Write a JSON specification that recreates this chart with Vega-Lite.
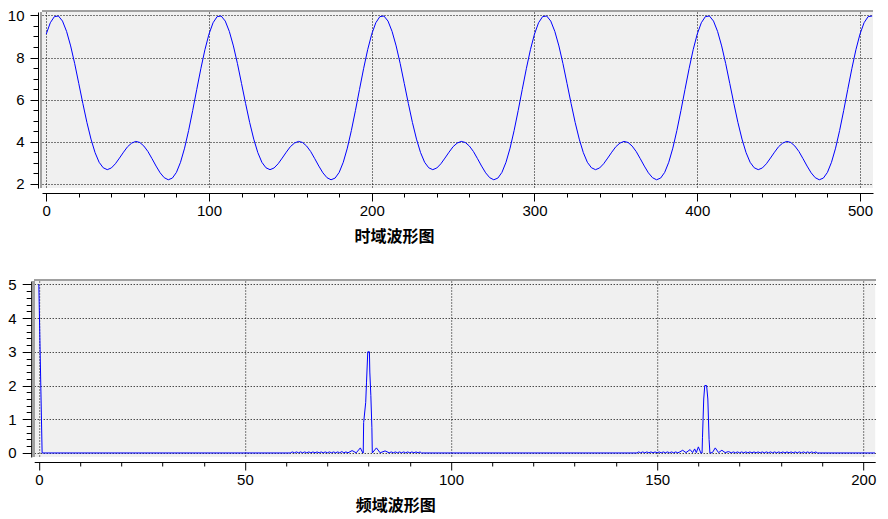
{
  "$schema": "https://vega.github.io/schema/vega-lite/v6.json",
  "background": "white",
  "padding": {"left": 7, "top": 8, "right": 10, "bottom": 5},
  "spacing": 33,
  "center": true,
  "datasets": {
    "time": [
      {"t":0,"v":9.11},{"t":2.5,"v":9.65},{"t":5,"v":9.94},{"t":7.5,"v":9.97},{"t":10,"v":9.73},{"t":12.5,"v":9.24},{"t":15,"v":8.55},{"t":17.5,"v":7.71},{"t":20,"v":6.77},{"t":22.5,"v":5.82},{"t":25,"v":4.92},{"t":27.5,"v":4.13},{"t":30,"v":3.49},{"t":32.5,"v":3.03},{"t":35,"v":2.77},{"t":37.5,"v":2.68},{"t":40,"v":2.76},{"t":42.5,"v":2.96},{"t":45,"v":3.23},{"t":47.5,"v":3.51},{"t":50,"v":3.77},{"t":52.5,"v":3.94},{"t":55,"v":4.02},{"t":57.5,"v":3.97},{"t":60,"v":3.8},{"t":62.5,"v":3.54},{"t":65,"v":3.2},{"t":67.5,"v":2.85},{"t":70,"v":2.53},{"t":72.5,"v":2.3},{"t":75,"v":2.2},{"t":77.5,"v":2.28},{"t":80,"v":2.55},{"t":82.5,"v":3.03},{"t":85,"v":3.7},{"t":87.5,"v":4.54},{"t":90,"v":5.49},{"t":92.5,"v":6.49},{"t":95,"v":7.47},{"t":97.5,"v":8.37},
      {"t":100,"v":9.11},{"t":102.5,"v":9.65},{"t":105,"v":9.94},{"t":107.5,"v":9.97},{"t":110,"v":9.73},{"t":112.5,"v":9.24},{"t":115,"v":8.55},{"t":117.5,"v":7.71},{"t":120,"v":6.77},{"t":122.5,"v":5.82},{"t":125,"v":4.92},{"t":127.5,"v":4.13},{"t":130,"v":3.49},{"t":132.5,"v":3.03},{"t":135,"v":2.77},{"t":137.5,"v":2.68},{"t":140,"v":2.76},{"t":142.5,"v":2.96},{"t":145,"v":3.23},{"t":147.5,"v":3.51},{"t":150,"v":3.77},{"t":152.5,"v":3.94},{"t":155,"v":4.02},{"t":157.5,"v":3.97},{"t":160,"v":3.8},{"t":162.5,"v":3.54},{"t":165,"v":3.2},{"t":167.5,"v":2.85},{"t":170,"v":2.53},{"t":172.5,"v":2.3},{"t":175,"v":2.2},{"t":177.5,"v":2.28},{"t":180,"v":2.55},{"t":182.5,"v":3.03},{"t":185,"v":3.7},{"t":187.5,"v":4.54},{"t":190,"v":5.49},{"t":192.5,"v":6.49},{"t":195,"v":7.47},{"t":197.5,"v":8.37},
      {"t":200,"v":9.11},{"t":202.5,"v":9.65},{"t":205,"v":9.94},{"t":207.5,"v":9.97},{"t":210,"v":9.73},{"t":212.5,"v":9.24},{"t":215,"v":8.55},{"t":217.5,"v":7.71},{"t":220,"v":6.77},{"t":222.5,"v":5.82},{"t":225,"v":4.92},{"t":227.5,"v":4.13},{"t":230,"v":3.49},{"t":232.5,"v":3.03},{"t":235,"v":2.77},{"t":237.5,"v":2.68},{"t":240,"v":2.76},{"t":242.5,"v":2.96},{"t":245,"v":3.23},{"t":247.5,"v":3.51},{"t":250,"v":3.77},{"t":252.5,"v":3.94},{"t":255,"v":4.02},{"t":257.5,"v":3.97},{"t":260,"v":3.8},{"t":262.5,"v":3.54},{"t":265,"v":3.2},{"t":267.5,"v":2.85},{"t":270,"v":2.53},{"t":272.5,"v":2.3},{"t":275,"v":2.2},{"t":277.5,"v":2.28},{"t":280,"v":2.55},{"t":282.5,"v":3.03},{"t":285,"v":3.7},{"t":287.5,"v":4.54},{"t":290,"v":5.49},{"t":292.5,"v":6.49},{"t":295,"v":7.47},{"t":297.5,"v":8.37},
      {"t":300,"v":9.11},{"t":302.5,"v":9.65},{"t":305,"v":9.94},{"t":307.5,"v":9.97},{"t":310,"v":9.73},{"t":312.5,"v":9.24},{"t":315,"v":8.55},{"t":317.5,"v":7.71},{"t":320,"v":6.77},{"t":322.5,"v":5.82},{"t":325,"v":4.92},{"t":327.5,"v":4.13},{"t":330,"v":3.49},{"t":332.5,"v":3.03},{"t":335,"v":2.77},{"t":337.5,"v":2.68},{"t":340,"v":2.76},{"t":342.5,"v":2.96},{"t":345,"v":3.23},{"t":347.5,"v":3.51},{"t":350,"v":3.77},{"t":352.5,"v":3.94},{"t":355,"v":4.02},{"t":357.5,"v":3.97},{"t":360,"v":3.8},{"t":362.5,"v":3.54},{"t":365,"v":3.2},{"t":367.5,"v":2.85},{"t":370,"v":2.53},{"t":372.5,"v":2.3},{"t":375,"v":2.2},{"t":377.5,"v":2.28},{"t":380,"v":2.55},{"t":382.5,"v":3.03},{"t":385,"v":3.7},{"t":387.5,"v":4.54},{"t":390,"v":5.49},{"t":392.5,"v":6.49},{"t":395,"v":7.47},{"t":397.5,"v":8.37},
      {"t":400,"v":9.11},{"t":402.5,"v":9.65},{"t":405,"v":9.94},{"t":407.5,"v":9.97},{"t":410,"v":9.73},{"t":412.5,"v":9.24},{"t":415,"v":8.55},{"t":417.5,"v":7.71},{"t":420,"v":6.77},{"t":422.5,"v":5.82},{"t":425,"v":4.92},{"t":427.5,"v":4.13},{"t":430,"v":3.49},{"t":432.5,"v":3.03},{"t":435,"v":2.77},{"t":437.5,"v":2.68},{"t":440,"v":2.76},{"t":442.5,"v":2.96},{"t":445,"v":3.23},{"t":447.5,"v":3.51},{"t":450,"v":3.77},{"t":452.5,"v":3.94},{"t":455,"v":4.02},{"t":457.5,"v":3.97},{"t":460,"v":3.8},{"t":462.5,"v":3.54},{"t":465,"v":3.2},{"t":467.5,"v":2.85},{"t":470,"v":2.53},{"t":472.5,"v":2.3},{"t":475,"v":2.2},{"t":477.5,"v":2.28},{"t":480,"v":2.55},{"t":482.5,"v":3.03},{"t":485,"v":3.7},{"t":487.5,"v":4.54},{"t":490,"v":5.49},{"t":492.5,"v":6.49},{"t":495,"v":7.47},{"t":497.5,"v":8.37},
      {"t":500,"v":9.11},{"t":502.5,"v":9.65},{"t":505,"v":9.94},{"t":507.5,"v":9.97}
    ],
    "freq": [
      {"f":0,"a":5},{"f":0.8,"a":0},{"f":61,"a":0},
      {"f":61.5,"a":0.03},{"f":62,"a":0.005},{"f":62.5,"a":0.03},{"f":63,"a":0.005},{"f":63.5,"a":0.03},{"f":64,"a":0.005},{"f":64.5,"a":0.03},{"f":65,"a":0.005},{"f":65.5,"a":0.03},{"f":66,"a":0.005},{"f":66.5,"a":0.03},{"f":67,"a":0.005},{"f":67.5,"a":0.03},{"f":68,"a":0.005},{"f":68.5,"a":0.03},{"f":69,"a":0.005},{"f":69.5,"a":0.03},{"f":70,"a":0.005},{"f":70.5,"a":0.03},{"f":71,"a":0.005},{"f":71.5,"a":0.03},{"f":72,"a":0.005},{"f":72.5,"a":0.03},{"f":73,"a":0.005},{"f":73.5,"a":0.04},{"f":74,"a":0.005},{"f":74.5,"a":0.03},{"f":75,"a":0.005},
      {"f":76,"a":0.07},{"f":77,"a":0.005},{"f":78,"a":0.15},{"f":78.6,"a":0},{"f":78.7,"a":0},
      {"f":78.8,"a":0.9},{"f":79.3,"a":1.5},{"f":79.5,"a":2.1},{"f":79.8,"a":3},{"f":80.2,"a":3},{"f":80.3,"a":2.4},{"f":80.55,"a":1.7},{"f":80.8,"a":0.75},{"f":80.9,"a":0},
      {"f":81.9,"a":0.15},{"f":82.8,"a":0.005},{"f":84,"a":0.06},{"f":85,"a":0.005},
      {"f":85.5,"a":0.03},{"f":86,"a":0.005},{"f":86.5,"a":0.03},{"f":87,"a":0.005},{"f":87.5,"a":0.03},{"f":88,"a":0.005},{"f":88.5,"a":0.03},{"f":89,"a":0.005},{"f":89.5,"a":0.03},{"f":90,"a":0.005},{"f":90.5,"a":0.03},{"f":91,"a":0.005},{"f":91.5,"a":0.03},{"f":92,"a":0.005},{"f":92.5,"a":0.03},{"f":92.8,"a":0},
      {"f":145.1,"a":0},
      {"f":145.5,"a":0.03},{"f":146,"a":0.005},{"f":146.5,"a":0.03},{"f":147,"a":0.005},{"f":147.5,"a":0.03},{"f":148,"a":0.005},{"f":148.5,"a":0.03},{"f":149,"a":0.005},{"f":149.5,"a":0.03},{"f":150,"a":0.005},{"f":150.5,"a":0.03},{"f":151,"a":0.005},{"f":151.5,"a":0.03},{"f":152,"a":0.005},{"f":152.5,"a":0.03},{"f":153,"a":0.005},{"f":153.5,"a":0.03},{"f":154,"a":0.005},{"f":154.5,"a":0.03},{"f":155,"a":0.005},{"f":155.5,"a":0.03},
      {"f":156.2,"a":0.08},{"f":157,"a":0.01},{"f":158,"a":0.1},{"f":158.6,"a":0.01},{"f":159.1,"a":0.12},{"f":159.5,"a":0.01},{"f":160,"a":0.18},{"f":160.6,"a":0},{"f":160.9,"a":0},
      {"f":161,"a":0.45},{"f":161.3,"a":1.6},{"f":161.55,"a":2},{"f":162,"a":2},{"f":162.3,"a":1.6},{"f":162.6,"a":0.4},{"f":162.8,"a":0},
      {"f":163.4,"a":0.01},{"f":164.1,"a":0.15},{"f":164.9,"a":0.01},{"f":165.7,"a":0.08},{"f":166.5,"a":0.01},{"f":167.3,"a":0.04},
      {"f":168,"a":0.005},{"f":168.5,"a":0.03},{"f":169,"a":0.005},{"f":169.5,"a":0.03},{"f":170,"a":0.005},{"f":170.5,"a":0.03},{"f":171,"a":0.005},{"f":171.5,"a":0.03},{"f":172,"a":0.005},{"f":172.5,"a":0.03},{"f":173,"a":0.005},{"f":173.5,"a":0.03},{"f":174,"a":0.005},{"f":174.5,"a":0.03},{"f":175,"a":0.005},{"f":175.5,"a":0.03},{"f":176,"a":0.005},{"f":176.5,"a":0.03},{"f":177,"a":0.005},{"f":177.5,"a":0.03},{"f":178,"a":0.005},{"f":178.5,"a":0.03},{"f":179,"a":0.005},{"f":179.5,"a":0.03},{"f":180,"a":0.005},{"f":180.5,"a":0.03},{"f":181,"a":0.005},{"f":181.5,"a":0.03},{"f":182,"a":0.005},{"f":182.5,"a":0.03},{"f":183,"a":0.005},{"f":183.5,"a":0.03},{"f":184,"a":0.005},{"f":184.5,"a":0.03},{"f":185,"a":0.005},{"f":185.5,"a":0.03},{"f":186,"a":0.005},{"f":186.5,"a":0.03},{"f":187,"a":0.005},{"f":187.5,"a":0.03},{"f":188,"a":0.005},{"f":188.5,"a":0.03},{"f":188.9,"a":0},
      {"f":202.9,"a":0}
    ]
  },
  "config": {
    "view": {"stroke": null, "fill": "#f0f0f0"},
    "axis": {
      "labelFont": "Liberation Sans",
      "labelFontSize": 15,
      "labelColor": "black",
      "labelFlush": false,
      "labelOverlap": false,
      "tickCount": 200,
      "domainColor": "black",
      "tickColor": "black",
      "gridColor": "black",
      "gridDash": [1, 2],
      "titleFont": "Noto Sans CJK SC",
      "titleFontSize": 16,
      "titleFontWeight": "bold",
      "titleColor": "black"
    }
  },
  "vconcat": [
    {
      "width": 831,
      "height": 176,
      "data": {"name": "time"},
      "layer": [
        {
          "mark": {"type": "line", "color": "#0000ff", "strokeWidth": 1, "clip": true},
          "encoding": {
            "x": {
              "field": "t",
              "type": "quantitative",
              "scale": {"domain": [-2.6, 508], "nice": false, "zero": false},
              "axis": {
                "values": [0,20,40,60,80,100,120,140,160,180,200,220,240,260,280,300,320,340,360,380,400,420,440,460,480,500],
                "tickCount": 200,
                "labelExpr": "datum.value % 100 === 0 ? '' + datum.value : ''",
                "tickSize": {"condition": {"test": "datum.value % 100 === 0", "value": 8}, "value": 4},
                "gridOpacity": {"condition": {"test": "datum.value % 100 === 0", "value": 1}, "value": 0},
                "offset": 5,
                "labelPadding": 2,
                "title": "时域波形图",
                "titleX": 352,
                "titlePadding": 10
              }
            },
            "y": {
              "field": "v",
              "type": "quantitative",
              "scale": {"domain": [1.81, 10.16], "nice": false, "zero": false},
              "axis": {
                "values": [2,2.5,3,3.5,4,4.5,5,5.5,6,6.5,7,7.5,8,8.5,9,9.5,10],
                "tickCount": 200,
                "labelExpr": "datum.value % 2 === 0 ? '' + datum.value : ''",
                "tickSize": {"condition": {"test": "datum.value % 2 === 0", "value": 8}, "value": 5},
                "gridOpacity": {"condition": {"test": "datum.value % 2 === 0", "value": 1}, "value": 0},
                "offset": 4,
                "labelPadding": 6,
                "title": null
              }
            }
          }
        },
        {
          "mark": {"type": "rule", "color": "#a0a0a0", "strokeWidth": 2},
          "encoding": {"y": {"datum": 10.21, "type": "quantitative"}}
        },
        {
          "mark": {"type": "rule", "color": "#a0a0a0", "strokeWidth": 2},
          "encoding": {"x": {"datum": -3.2, "type": "quantitative"}}
        }
      ]
    },
    {
      "width": 841,
      "height": 176,
      "data": {"name": "freq"},
      "layer": [
        {
          "mark": {"type": "line", "color": "#0000ff", "strokeWidth": 1, "clip": true},
          "encoding": {
            "x": {
              "field": "f",
              "type": "quantitative",
              "scale": {"domain": [-1.12, 202.9], "nice": false, "zero": false},
              "axis": {
                "values": [0,10,20,30,40,50,60,70,80,90,100,110,120,130,140,150,160,170,180,190,200],
                "tickCount": 200,
                "labelExpr": "datum.value % 50 === 0 ? '' + datum.value : ''",
                "tickSize": {"condition": {"test": "datum.value % 50 === 0", "value": 8}, "value": 4},
                "gridOpacity": {"condition": {"test": "datum.value % 50 === 0", "value": 1}, "value": 0},
                "offset": 5,
                "labelPadding": 2,
                "title": "频域波形图",
                "titleX": 361,
                "titlePadding": 10
              }
            },
            "y": {
              "field": "a",
              "type": "quantitative",
              "scale": {"domain": [-0.12, 5.1], "nice": false, "zero": false},
              "axis": {
                "values": [0,0.2,0.4,0.6,0.8,1,1.2,1.4,1.6,1.8,2,2.2,2.4,2.6,2.8,3,3.2,3.4,3.6,3.8,4,4.2,4.4,4.6,4.8,5],
                "tickCount": 200,
                "labelExpr": "abs(datum.value - round(datum.value)) < 0.001 ? '' + round(datum.value) : ''",
                "tickSize": {"condition": {"test": "abs(datum.value - round(datum.value)) < 0.001", "value": 9}, "value": 5},
                "gridOpacity": {"condition": {"test": "abs(datum.value - round(datum.value)) < 0.001", "value": 1}, "value": 0},
                "offset": 3,
                "labelPadding": 6,
                "title": null
              }
            }
          }
        },
        {
          "mark": {"type": "rule", "color": "#a0a0a0", "strokeWidth": 2},
          "encoding": {"y": {"datum": 5.13, "type": "quantitative"}}
        },
        {
          "mark": {"type": "rule", "color": "#a0a0a0", "strokeWidth": 2},
          "encoding": {"x": {"datum": -1.36, "type": "quantitative"}}
        },
        {
          "mark": {"type": "rule", "strokeOpacity": 0},
          "encoding": {
            "x": {"datum": 202.9, "type": "quantitative"},
            "x2": {"datum": 204.5},
            "y": {"datum": 0, "type": "quantitative"}
          }
        }
      ]
    }
  ]
}
